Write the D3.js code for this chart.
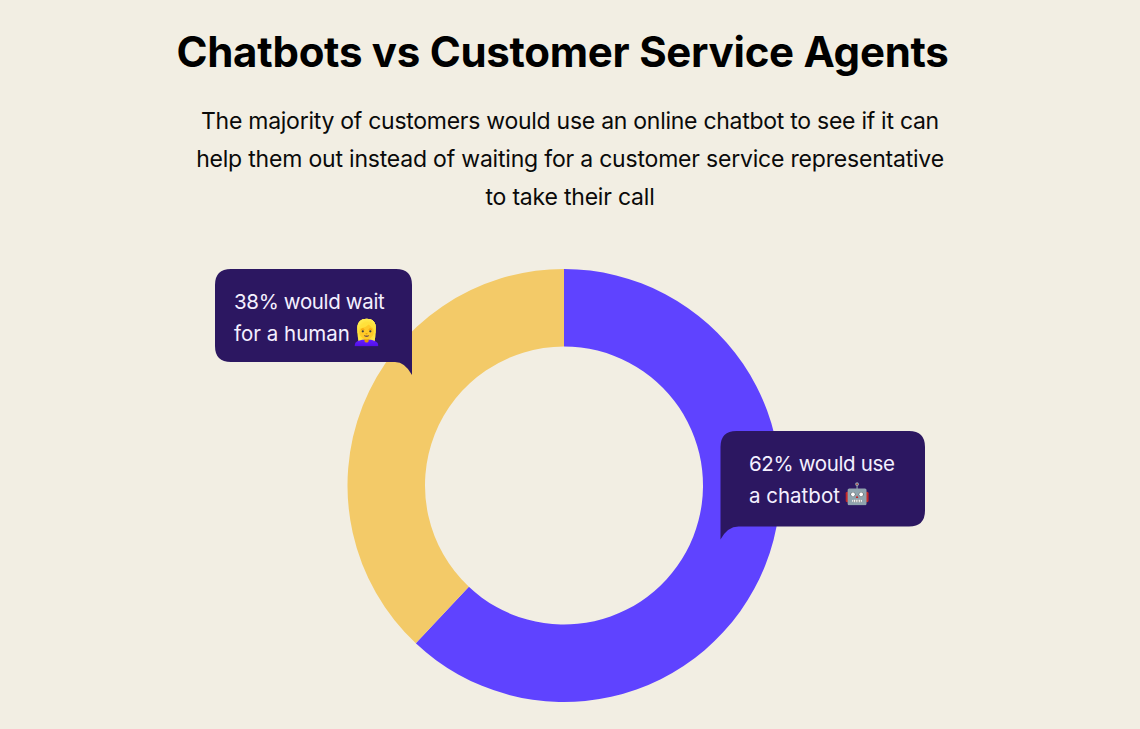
<!DOCTYPE html>
<html><head><meta charset="utf-8">
<script src="https://cdn.jsdelivr.net/npm/d3@7/dist/d3.min.js"></script>
<style>html,body{margin:0;padding:0;background:#f2eee3}svg{display:block}</style>
</head><body><svg id="chart" width="1140" height="729"></svg>
<script>
const categories = ["chatbot", "human"];
const shares = [62, 38];
const sliceColors = ["#5f43ff", "#f3ca68"];
const titleText = "Chatbots vs Customer Service Agents";
const subtitleLines = [
  "The majority of customers would use an online chatbot to see if it can",
  "help them out instead of waiting for a customer service representative",
  "to take their call"
];
const calloutLines = [
  [{t: "62% would use"}, {t: "a chatbot", emoji: "🤖", size: 21, dx: 4, dy: -2}],
  [{t: "38% would wait"}, {t: "for a human", emoji: "👱‍♀️", size: 25, dx: 1, dy: 0}]
];

const svg = d3.select("#chart");
const font = "Inter, 'Open Sans', sans-serif";

svg.append("text").attr("x", 562.5).attr("y", 67).attr("text-anchor", "middle")
  .attr("font-family", font).attr("font-weight", 700).attr("font-size", 42)
  .attr("letter-spacing", -0.27).attr("fill", "#000").text(titleText);

svg.selectAll("text.sub").data(subtitleLines).join("text").attr("class", "sub")
  .attr("x", 570).attr("y", (d, i) => 129 + i * 38).attr("text-anchor", "middle")
  .attr("font-family", font).attr("font-size", 23)
  .attr("letter-spacing", (d, i) => i === 0 ? -0.27 : -0.2)
  .attr("fill", "#0a0a0a").text(d => d);

// Donut, clockwise from twelve o'clock
const pie = d3.pie().sort(null).value(d => d);
const arc = d3.arc().innerRadius(139).outerRadius(216.5);
svg.append("g").attr("transform", "translate(564,485.5)")
  .selectAll("path").data(pie(shares)).join("path")
  .attr("d", arc).attr("fill", (d, i) => sliceColors[i]);

// Speech-bubble callouts with a pointed corner
const boxes = [
  {x: 720.5, y: 431, w: 204.5, h: 95.5, tx: 749, ty: 470.5, tail: "bl"},
  {x: 215, y: 269, w: 197, h: 93, tx: 234, ty: 308.5, tail: "br"}
];
function bubble(b) {
  const r = 16, x0 = b.x, y0 = b.y, x1 = b.x + b.w, y1 = b.y + b.h, t = 13;
  if (b.tail === "bl") {
    return `M${x0+r},${y0}H${x1-r}Q${x1},${y0} ${x1},${y0+r}V${y1-r}Q${x1},${y1} ${x1-r},${y1}H${x0+18}Q${x0+7},${y1} ${x0},${y1+t}V${y0+r}Q${x0},${y0} ${x0+r},${y0}Z`;
  }
  return `M${x0+r},${y0}H${x1-r}Q${x1},${y0} ${x1},${y0+r}V${y1+t}Q${x1-7},${y1} ${x1-17},${y1}H${x0+r}Q${x0},${y1} ${x0},${y1-r}V${y0+r}Q${x0},${y0} ${x0+r},${y0}Z`;
}
const calloutG = svg.append("g");
calloutG.selectAll("path").data(boxes).join("path")
  .attr("d", bubble).attr("fill", "#2c1761");
boxes.forEach((b, i) => {
  const lines = calloutG.selectAll(null).data(calloutLines[i]).join("text")
    .attr("x", b.tx).attr("y", (d, k) => b.ty + k * 32)
    .attr("font-family", font).attr("font-size", 20.5)
    .attr("letter-spacing", (d, k) => k === 0 ? -0.35 : 0)
    .attr("fill", "#f4f0ff");
  lines.append("tspan").text(d => d.t);
  lines.filter(d => d.emoji).append("tspan")
    .attr("dx", d => d.dx).attr("dy", d => d.dy)
    .attr("font-size", d => d.size).text(d => d.emoji);
});
</script></body></html>
